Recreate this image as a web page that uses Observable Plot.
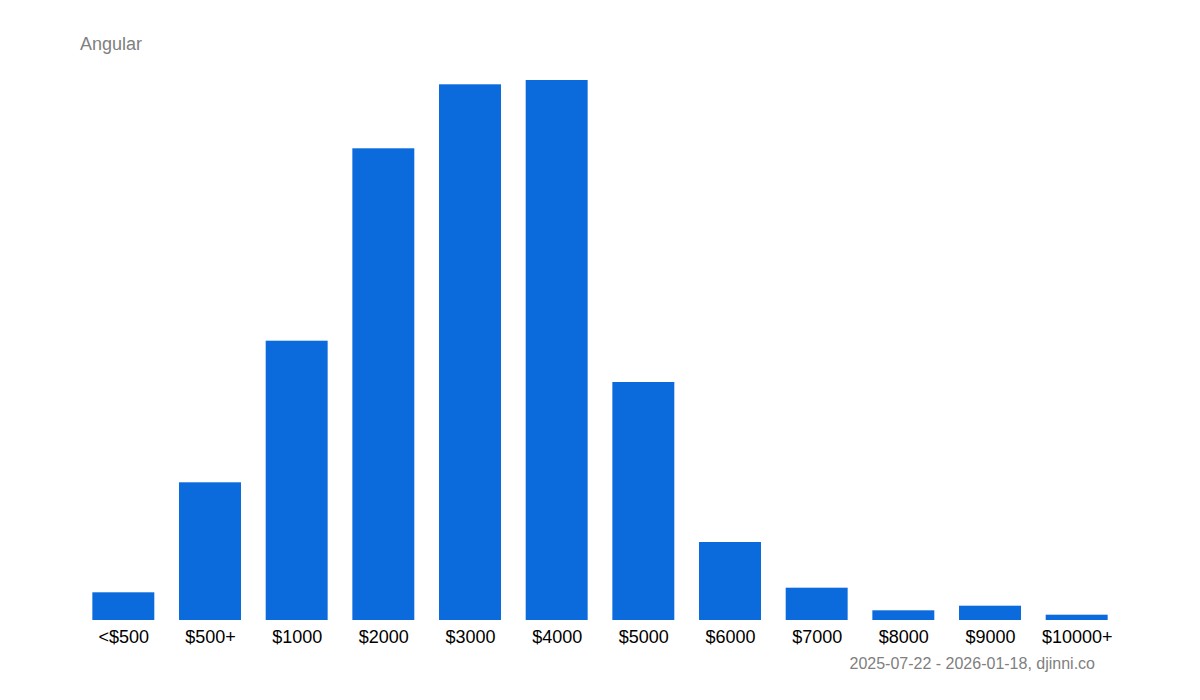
<!DOCTYPE html>
<html>
<head>
<meta charset="utf-8">
<script src="https://cdn.jsdelivr.net/npm/d3@7"></script>
<script src="https://cdn.jsdelivr.net/npm/@observablehq/plot@0.6"></script>
<style>
  html, body { margin: 0; padding: 0; background: #fff; }
  body { width: 1200px; height: 700px; overflow: hidden; font-family: "Liberation Sans", Arial, sans-serif; }
  #title { height: 60px; box-sizing: border-box; padding-top: 35px; padding-left: 80px; font-size: 18px; line-height: 18px; color: #808080; }
  #caption { box-sizing: border-box; padding-top: 6px; padding-right: 105px; text-align: right; font-size: 16px; line-height: 16px; color: #808080; }
  svg { display: block; }
</style>
</head>
<body>
<div id="title">Angular</div>
<div id="chart"></div>
<div id="caption">2025-07-22 - 2026-01-18, djinni.co</div>
<script>
const categories = ["<$500", "$500+", "$1000", "$2000", "$3000", "$4000", "$5000", "$6000", "$7000", "$8000", "$9000", "$10000+"];
const counts = [27.7, 137.7, 279.3, 471.7, 535.7, 540, 238, 78, 32.3, 9.7, 14.3, 5.3];

const data = categories.map((c, i) => ({category: c, count: counts[i]}));

const chart = Plot.plot({
  width: 1200,
  height: 590,
  marginLeft: 80,
  marginRight: 80,
  marginTop: 20,
  marginBottom: 30,
  style: {fontFamily: "'Liberation Sans', Arial, sans-serif", fontSize: "18px", color: "#000", background: "#fff"},
  x: {domain: categories, paddingInner: 0.285, paddingOuter: 0.1425, round: false, label: null, tickSize: 0, tickPadding: 10},
  y: {domain: [0, 540], axis: null},
  marks: [
    Plot.barY(data, {x: "category", y: "count", fill: "#0b6bdc"})
  ]
});
document.getElementById("chart").appendChild(chart);
</script>
</body>
</html>
